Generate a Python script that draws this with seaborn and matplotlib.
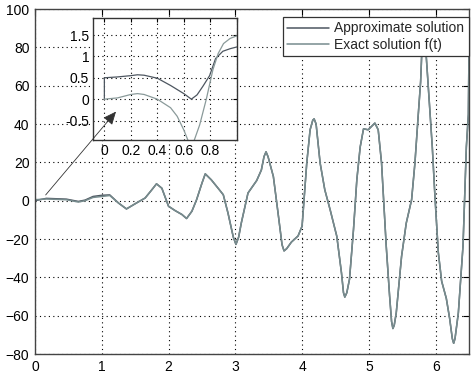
import numpy as np
import matplotlib
matplotlib.use("Agg")
import matplotlib.pyplot as plt
import seaborn as sns

# main curve
t_main = [0, 0.17, 0.47, 0.65, 0.75, 0.87, 1.0, 1.12, 1.25, 1.37, 1.52, 1.65, 1.75,
          1.82, 1.9, 2.0, 2.1, 2.2, 2.27, 2.35, 2.42, 2.5, 2.55, 2.64, 2.74, 2.82,
          2.89, 2.97, 3.01, 3.05, 3.09, 3.19, 3.32, 3.39, 3.43, 3.46, 3.49, 3.57,
          3.64, 3.7, 3.73, 3.77, 3.84, 3.94, 4.0, 4.07, 4.12, 4.16, 4.18, 4.21,
          4.27, 4.34, 4.42, 4.52, 4.59, 4.62, 4.64, 4.67, 4.71, 4.77, 4.82, 4.87,
          4.92, 4.99, 5.09, 5.14, 5.19, 5.26, 5.31, 5.34, 5.36, 5.38, 5.41, 5.49,
          5.56, 5.64, 5.69, 5.74, 5.775, 5.79, 5.825, 5.86, 5.885, 5.95, 5.99,
          6.04, 6.09, 6.16, 6.21, 6.25, 6.27, 6.29, 6.34, 6.41, 6.46, 6.49, 6.5]
exact_v = [0.5, 0.9, 0.5, -0.7, 0, 1.7, 2.2, 2.7, -1.2, -4.3, -1.2, 1.4, 5.7,
           8.8, 6.5, -2.9, -5.2, -7.2, -9.3, -5.5, 0.5, 9.1, 14, 10.9, 6.6, 3.1,
           -6.4, -19, -22.8, -19, -11.6, 4, 10.5, 16, 23, 25.5, 23, 12.6,
           -6.4, -23, -26.2, -25, -21.6, -18.4, -13.3, 19.7, 37, 42, 42.7, 40,
           19.7, 5.7, -4.7, -18.6, -37.7, -48, -50.3, -48, -41, -15, 11, 28,
           37.5, 37, 40.5, 37, 19.7, -23.6, -49.4, -63, -66.7, -65, -58.6, -29,
           -11.7, 0.5, 19.7, 45, 62, 75, 90, 75, 62, 28, 2,
           -27, -42, -51, -61.5, -72, -74.4, -72, -58.6, -23.6, 28, 45, 80]
approx_v = list(exact_v)
approx_v[:8] = [0.0, 1.2, 0.8, -0.4, 0.3, 2.2, 2.8, 3.0]

# zoomed inset, t in [0, 1]
t_in_approx = [0, 0, 0.1, 0.2, 0.25, 0.3, 0.4, 0.5, 0.6, 0.657, 0.7, 0.744, 0.795,
               0.84, 0.895, 0.95, 1.0]
v_in_approx = [0, 0.5, 0.52, 0.55, 0.57, 0.56, 0.49, 0.32, 0.13, 0.0, 0.1, 0.3, 0.55,
               0.95, 1.12, 1.18, 1.22]
t_in_exact = [0, 0.1, 0.2, 0.25, 0.3, 0.4, 0.5, 0.55, 0.6, 0.63, 0.655, 0.68, 0.72,
              0.77, 0.82, 0.86, 0.9, 0.95, 1.0]
v_in_exact = [0, 0.03, 0.11, 0.13, 0.11, 0.0, -0.2, -0.4, -0.72, -0.95, -1.1, -0.95,
              -0.6, 0.0, 0.69, 1.07, 1.3, 1.42, 1.48]

c_approx = "#4d5660"
c_exact = "#778c8e"

sns.set_style("white")
plt.rcParams["font.family"] = ["Liberation Sans", "DejaVu Sans"]
plt.rcParams["font.size"] = 10

fig = plt.figure(figsize=(4.74, 3.77), dpi=100)
ax = fig.add_axes([0.0738, 0.061, 0.9157, 0.915])

sns.lineplot(x=t_main, y=approx_v, ax=ax, color=c_approx, lw=1.1,
             estimator=None, sort=False, label="Approximate solution")
sns.lineplot(x=t_main, y=exact_v, ax=ax, color=c_exact, lw=1.1,
             estimator=None, sort=False, label="Exact solution f(t)")
ax.set_xlim(0, 6.5)
ax.set_ylim(-80, 100)
ax.set_xticks(range(0, 7))
ax.set_yticks(range(-80, 101, 20))
ax.grid(True, color="k", ls=(0, (1, 3)), lw=0.8)
ax.tick_params(direction="in", top=True, right=True, length=4, width=0.8,
               labelsize=10, colors="k", pad=4)
for s in ax.spines.values():
    s.set_color("#444444")
    s.set_linewidth(1.0)

leg = ax.legend(loc="upper right", bbox_to_anchor=(0.999, 0.976), frameon=True,
                fancybox=False, framealpha=1, edgecolor="#333333", fontsize=10,
                handlelength=3.0, handletextpad=0.4, labelspacing=0.15,
                borderpad=0.3, borderaxespad=0)
leg.get_frame().set_linewidth(0.9)

# inset
axin = fig.add_axes([0.197, 0.6286, 0.3025, 0.3228])
sns.lineplot(x=t_in_approx, y=v_in_approx, ax=axin, color=c_approx, lw=0.9,
             estimator=None, sort=False, legend=False)
sns.lineplot(x=t_in_exact, y=v_in_exact, ax=axin, color="#8a9a9a", lw=0.9,
             estimator=None, sort=False, legend=False)
axin.set_xlim(-0.083, 1.0)
axin.set_ylim(-0.955, 1.89)
axin.set_xticks([0, 0.2, 0.4, 0.6, 0.8, 1.0])
axin.set_xticklabels(["0", "0.2", "0.4", "0.6", "0.8", ""])
axin.set_yticks([-0.5, 0, 0.5, 1, 1.5])
axin.set_yticklabels(["-0.5", "0", "0.5", "1", "1.5"])
axin.grid(True, color="k", ls=(0, (1, 3)), lw=0.8)
axin.tick_params(direction="in", top=True, right=True, length=3, width=0.8,
                 labelsize=10, colors="k", pad=3)
for s in axin.spines.values():
    s.set_color("#333333")
    s.set_linewidth(1.0)

axin.annotate("", xy=(0.088, -0.29), xycoords="data",
              xytext=(0.16, 3), textcoords=ax.transData,
              arrowprops=dict(arrowstyle="-|>,head_length=0.8,head_width=0.35",
                              color="#333333", lw=0.6, shrinkA=0, shrinkB=0),
              annotation_clip=False)

fig.savefig("out.png", dpi=100)
